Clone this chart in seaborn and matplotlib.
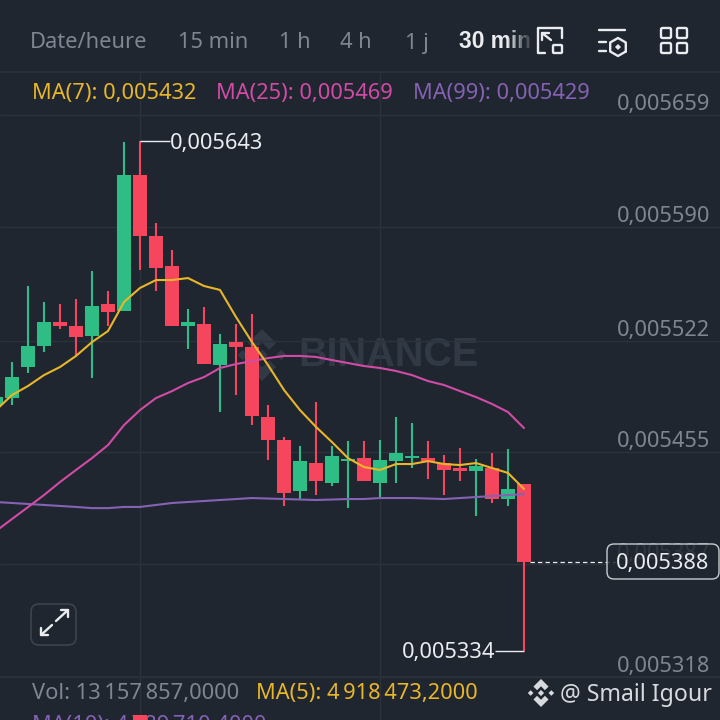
import numpy as np
import pandas as pd
import matplotlib
matplotlib.use("Agg")
import matplotlib.pyplot as plt
from matplotlib.patches import FancyBboxPatch, Polygon, Rectangle
import seaborn as sns

# prices are in millionths (0,005643 -> 5643)
open_ = [5483.3,5487.5,5506.3,5519.0,5533.6,5531.1,5525.1,5544.5,5540.2,5622.6,5585.7,5567.5,5531.1,5532.4,5507.5,5521.4,5518.4,5476.0,5462.1,5431.1,5448.1,5436.0,5449.3,5451.1,5436.0,5449.3,5451.1,5451.1,5448.1,5445.1,5443.3,5445.1,5426.3,5435.4]
high  = [5489.3,5509.3,5555.4,5545.7,5544.5,5547.5,5564.5,5552.3,5642.6,5643.2,5593.6,5577.2,5541.4,5542.6,5526.3,5532.4,5538.4,5483.3,5463.9,5458.4,5485.1,5458.4,5461.5,5461.5,5462.1,5476.0,5472.4,5461.5,5453.0,5457.2,5450.5,5454.2,5456.6,5435.4]
low   = [5482.0,5483.3,5502.7,5515.4,5529.3,5512.9,5499.6,5531.1,5540.2,5565.1,5552.3,5531.1,5517.2,5508.1,5479.0,5489.3,5471.1,5449.9,5422.1,5426.3,5428.7,5434.2,5420.8,5437.2,5426.9,5436.0,5445.1,5438.4,5428.7,5437.2,5416.0,5423.9,5422.1,5334.2]
close = [5488.1,5500.2,5519.0,5533.6,5531.1,5524.5,5543.3,5539.6,5622.6,5585.7,5566.3,5531.1,5533.6,5508.1,5520.2,5518.4,5476.6,5462.1,5430.0,5449.3,5437.2,5452.4,5450.5,5437.2,5449.9,5454.2,5452.4,5449.3,5443.9,5443.3,5446.3,5426.3,5432.4,5388.1]
ma7   = [5480.2,5489.3,5494.8,5501.4,5506.3,5513.0,5521.4,5528.1,5545.7,5554.2,5559.0,5559.0,5560.2,5555.4,5553.0,5536.6,5521.4,5507.5,5492.4,5480.2,5470.0,5460.8,5451.1,5445.7,5443.9,5447.5,5447.5,5449.3,5447.5,5446.9,5448.1,5445.1,5442.1,5432.4]
ma25  = [5406.9,5414.2,5421.4,5428.7,5436.6,5443.9,5451.1,5459.0,5471.1,5480.2,5487.5,5491.7,5496.6,5500.2,5505.7,5508.1,5509.9,5511.7,5513.0,5513.0,5512.4,5510.5,5508.7,5506.9,5505.7,5503.9,5501.4,5497.8,5495.4,5491.7,5488.1,5483.9,5479.0,5469.3]
ma99  = [5424.5,5423.9,5423.3,5422.7,5422.1,5421.5,5420.8,5420.8,5421.5,5421.5,5422.7,5423.9,5424.5,5425.1,5425.7,5426.3,5426.9,5426.6,5426.3,5426.0,5425.7,5426.0,5426.3,5426.3,5426.9,5426.9,5426.9,5426.6,5426.3,5426.9,5427.5,5428.1,5428.7,5429.3]
tick_values = [5659.0,5590.9,5522.3,5454.5,5386.8,5318.7]
tick_labels = ["0,005659","0,005590","0,005522","0,005455","0,005387","0,005318"]
intervals = ["Date/heure","15 min","1 h","4 h","1 j"]

BG="#1f2630"; GRID="#2b323c"; SEP="#2a313b"; GREEN="#2ebd85"; RED="#f6465d"
YEL="#e9b62a"; PINK="#d24ba6"; PUR="#8562b4"; GRAY="#7e8692"; WHITE="#eaecef"
FONT="Noto Sans"; FS=15.7

sns.set_theme(style="dark", rc={"axes.facecolor":"none","figure.facecolor":BG})
plt.rcParams["font.family"]=[FONT,"DejaVu Sans"]

df=pd.DataFrame(dict(i=np.arange(len(open_)),o=open_,h=high,l=low,c=close,m7=ma7,m25=ma25,m99=ma99))
df["col"]=np.where(df.c>=df.o,GREEN,RED)

fig=plt.figure(figsize=(7.2,7.2),dpi=100,facecolor=BG)
back=fig.add_axes([0,0,1,1],zorder=1); back.set_xlim(0,720); back.set_ylim(720,0); back.axis("off")
ax=fig.add_axes([0,0,1,1],zorder=2)
ui=fig.add_axes([0,0,1,1],zorder=3); ui.set_xlim(0,720); ui.set_ylim(720,0); ui.axis("off"); ui.patch.set_alpha(0)

def logo(a,cx,cy,r,color,z=1):
    shapes=[[(0,-.22),(.22,0),(0,.22),(-.22,0)],
            [(-.74,-.2),(-.54,0),(-.74,.2),(-.94,0)],
            [(.74,-.2),(.94,0),(.74,.2),(.54,0)],
            [(0,-1),(.54,-.46),(.28,-.2),(0,-.48),(-.28,-.2),(-.54,-.46)],
            [(0,1),(.54,.46),(.28,.2),(0,.48),(-.28,.2),(-.54,.46)]]
    for s in shapes:
        a.add_patch(Polygon([(cx+x*r,cy+y*r) for x,y in s],closed=True,fc=color,ec="none",zorder=z))

# watermark
logo(back,262,355,26,"#313944")
back.text(298,355,"BINANCE",color="#313944",fontsize=28.5,fontweight="bold",va="center",ha="left",family="Liberation Sans")

# candles
ax.vlines(df.i,df.l,df.h,colors=df.col,linewidth=1.5,zorder=3)
ax.bar(df.i,np.abs(df.c-df.o).clip(lower=0.8),bottom=np.minimum(df.o,df.c),width=14/16,color=df.col,linewidth=0,zorder=4)
# moving averages
for col,c in (("m99",PUR),("m25",PINK),("m7",YEL)):
    sns.lineplot(data=df,x="i",y=col,color=c,linewidth=1.5,ax=ax,legend=False,zorder=5,errorbar=None)

ax.set_xlim(0.25,45.25)
ax.set_ylim(5292.4,5728.69)
ax.set_xticks([9,24]); ax.set_xticklabels([])
ax.set_yticks(tick_values); ax.set_yticklabels(tick_labels)
ax.set_xlabel(""); ax.set_ylabel("")
ax.grid(True,color=GRID,linewidth=1.0,zorder=0)
for s in ax.spines.values(): s.set_visible(False)
ax.yaxis.tick_right()
ax.tick_params(axis="y",length=0,pad=-7,labelsize=FS,labelcolor=GRAY)
ax.tick_params(axis="x",length=0)
for t in ax.get_yticklabels():
    t.set_ha("right"); t.set_va("bottom"); t.set_zorder(6)

# high / low annotations
imax=int(np.argmax(high)); imin=int(np.argmin(low))
ax.hlines(high[imax],imax,imax+30/16,color=WHITE,lw=1,zorder=7)
ax.text(imax+30/16,high[imax]-1.3,"0,005643",color=WHITE,fontsize=FS,va="center",ha="left",zorder=7)
ax.hlines(low[imin],imin-29/16,imin,color=WHITE,lw=1,zorder=7)
ax.text(imin-29/16,low[imin]-1.0,"0,005334",color=WHITE,fontsize=FS,va="center",ha="right",zorder=7)
ax.plot([33.4,38.7],[close[-1]]*2,color=WHITE,lw=0.9,ls=(0,(3.5,2.5)),zorder=6)

# header band & separators
ui.add_patch(Rectangle((0,0),720,72,fc=BG,ec="none",zorder=1))
ui.plot([0,720],[72,72],color=SEP,lw=1.4,zorder=2)
ui.plot([0,720],[676.5,676.5],color=SEP,lw=1.4,zorder=2)

# header text
for txt,x in zip(intervals,[30,178,279,340,405]):
    ui.text(x,43,txt,color=GRAY,fontsize=FS,va="center",ha="left",zorder=3)
ui.text(459,42,"30 min",color=WHITE,fontsize=16.4,fontweight="bold",va="center",ha="left",zorder=3,family="Liberation Sans")
for k,xx in enumerate(np.arange(508,534,3)):
    ui.add_patch(Rectangle((xx,25),3,35,fc=BG,ec="none",alpha=min(1,0.12+0.11*k),zorder=4))

# MA legend row
for txt,x,c in (("MA(7): 0,005432",32,YEL),("MA(25): 0,005469",216,PINK),("MA(99): 0,005429",413,PUR)):
    ui.text(x,93,txt,color=c,fontsize=FS,va="center",ha="left",zorder=3)

# toolbar icons
W=dict(color=WHITE,lw=1.7,solid_capstyle="round",solid_joinstyle="round",zorder=5)
ui.plot([545,538,538,562,562],[53,53,28,28,38],**W)
ui.add_patch(FancyBboxPatch((553,45),9,8,boxstyle="round,pad=0,rounding_size=1",fc="none",ec=WHITE,lw=1.7,zorder=5))
ui.plot([551,542],[40,33],**W); ui.plot([542,542,549],[40,33,33],**W)
ui.plot([599,625],[30,30],**W); ui.plot([599,606],[42,42],**W); ui.plot([599,606],[51,51],**W)
th=np.deg2rad(np.arange(30,391,60))
ui.plot(618+9*np.cos(th),47+9*np.sin(th),**W)
ui.add_patch(Polygon([(618,44),(621,47),(618,50),(615,47)],fc=WHITE,ec="none",zorder=5))
for x0 in (661,677):
    for y0 in (28,43):
        ui.add_patch(FancyBboxPatch((x0,y0),10,10,boxstyle="round,pad=0,rounding_size=1.5",fc="none",ec=WHITE,lw=1.7,zorder=5))

# last price box
ui.add_patch(FancyBboxPatch((607,544),112,35,boxstyle="round,pad=0,rounding_size=7",fc=BG,alpha=0.82,ec="none",zorder=5))
ui.add_patch(FancyBboxPatch((607,544),112,35,boxstyle="round,pad=0,rounding_size=7",fc="none",ec="#c8ccd0",lw=1,zorder=6))
ui.text(663,564,"0,005388",color=WHITE,fontsize=FS,va="center",ha="center",zorder=7)

# expand button
ui.add_patch(FancyBboxPatch((31,604),45,41,boxstyle="round,pad=0,rounding_size=8",fc=BG,ec="#3b434e",lw=1.2,zorder=5))
ui.plot([56,68],[621,610],**W); ui.plot([61,68,68],[610,610,617],**W)
ui.plot([52,41],[625,635],**W); ui.plot([41,41,48],[628,635,635],**W)

# footer
ui.text(32,693,"Vol: 13\u2009157\u2009857,0000",color=GRAY,fontsize=FS,va="center",ha="left",zorder=3)
ui.text(256,693,"MA(5): 4\u2009918\u2009473,2000",color=YEL,fontsize=FS,va="center",ha="left",zorder=3)
ui.text(32,725,"MA(10): 4\u2009789\u2009710,4000",color=PUR,fontsize=FS,va="center",ha="left",zorder=3,clip_on=True)
ui.add_patch(Rectangle((133,715),14,6,fc=RED,ec="none",zorder=4))
logo(ui,541,693,14,"#d8dadd",z=5)
ui.text(560,695,"@ Smail Igour",color="#d8dadd",fontsize=16.6,va="center",ha="left",zorder=5)

fig.savefig("out.png",dpi=100,facecolor=BG)
